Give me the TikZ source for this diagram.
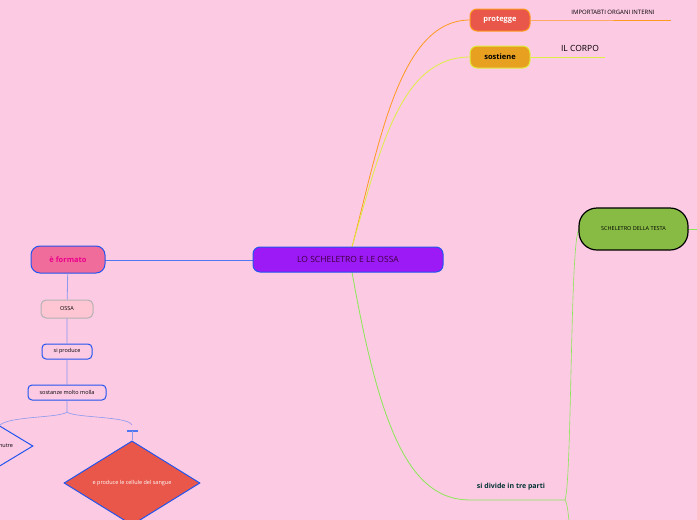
\documentclass[tikz,border=0pt]{standalone}
\usepackage{fontspec}
\setmainfont{Open Sans}
\usetikzlibrary{shapes.geometric}
\definecolor{bg}{HTML}{FDCAE4}
\definecolor{bl}{HTML}{2255EE}
\definecolor{ln}{HTML}{8899EE}
\definecolor{cpur}{HTML}{9B1AF5}
\definecolor{cred}{HTML}{E8574A}
\definecolor{corg}{HTML}{E8A020}
\definecolor{cgrn}{HTML}{88BB44}
\definecolor{cpink}{HTML}{F06C9B}
\definecolor{lorg}{HTML}{FF9A20}
\definecolor{lyel}{HTML}{DDEE44}
\definecolor{lgrn}{HTML}{88E855}
\begin{document}
\begin{tikzpicture}[x=1pt,y=-1pt,
 pill/.style={rounded corners=#1,draw,line width=1pt,align=center,inner sep=0pt},
 small/.style={font=\fontsize{5.5}{6.5}\selectfont}]
\fill[bg] (0,0) rectangle (697,520);
\clip (0,0) rectangle (697,520);
\draw[lorg,line width=0.8pt] (352,247) .. controls (380,140) and (400,20) .. (470,20);
\draw[lyel,line width=0.8pt] (352,247) .. controls (380,150) and (400,57) .. (470,57);
\draw[lgrn,line width=0.8pt] (352,272) .. controls (380,430) and (410,500) .. (470,500) -- (565,500);
\draw[lgrn,line width=0.6pt] (565,500) .. controls (572,480) and (570,240) .. (579,229);
\draw[lgrn,line width=0.6pt] (565,500) .. controls (568,505) and (568,515) .. (569,520);
\draw[lgrn,line width=0.6pt] (688,229) -- (697,229);
\draw[bl!80,line width=0.8pt] (105,260) -- (253,260);
\node[pill=7pt,fill=cpur,draw=bl,minimum width=190pt,minimum height=25pt,text=violet!50!black,font=\fontsize{8.5}{9}\selectfont] (c) at (348,259.5) {LO SCHELETRO E LE OSSA};
\node[pill=7pt,fill=cred,draw=lorg,minimum width=60pt,minimum height=22pt,text=white,font=\bfseries\fontsize{7.5}{9}\selectfont] (p) at (500,20) {protegge};
\node[pill=7pt,fill=corg,draw=lyel,minimum width=60pt,minimum height=22pt,font=\bfseries\fontsize{7.5}{9}\selectfont] (s) at (500,57) {sostiene};
\draw[lorg,line width=0.8pt] (p.east) -- (558,20) -- (671,20);
\draw[lyel,line width=0.8pt] (s.east) -- (605,57);
\node[font=\fontsize{6}{7}\selectfont] (t1) at (613,12) {IMPORTABTI ORGANI INTERNI};
\node[font=\fontsize{8.5}{9}\selectfont] (t2) at (580,48) {IL CORPO};
\node[pill=18pt,fill=cgrn,draw=black,line width=1.2pt,minimum width=109pt,minimum height=42pt,small] (st) at (633.5,229) {SCHELETRO DELLA TESTA};
\node[font=\bfseries\fontsize{7}{8}\selectfont,text=teal!40!black] (sd) at (511,487) {si divide in tre parti};
\node[pill=9pt,fill=cpink,draw=bl,minimum width=74pt,minimum height=27pt,text=magenta,font=\bfseries\fontsize{7.5}{9}\selectfont] (f) at (68,259.5) {è formato};
\node[pill=5pt,fill=pink!50!bg,draw=gray!60,minimum width=52pt,minimum height=18pt,small] (o) at (67,309) {OSSA};
\node[pill=4pt,fill=bg,draw=bl,minimum width=50pt,minimum height=15pt,small] (sp) at (67,351.5) {si produce};
\node[pill=4pt,fill=bg,draw=bl,minimum width=78pt,minimum height=15pt,small] (sm) at (67,392.5) {sostanze molto molla};
\draw[ln,line width=0.8pt] (f) -- (o) -- (sp) -- (sm);
\draw[ln,line width=0.6pt] (sm.south) -- (67,412) .. controls (60,418) and (10,416) .. (0,425);
\draw[ln,line width=0.6pt] (67,412) .. controls (74,418) and (128,416) .. (132,425);
\draw[bl!80,line width=1.2pt] (127,431) -- (138,431);
\node[diamond,draw=bl,line width=1pt,fill=bg,minimum width=66pt,minimum height=40pt,inner sep=0pt,small] (n) at (0,446) {\hspace*{12pt}nutre};
\node[diamond,draw=bl,line width=1pt,fill=cred,minimum width=136pt,minimum height=56pt,inner sep=0pt,small,text=white] (r) at (132,483) {e produce le cellule del sangue};
\draw[ln,line width=0.8pt] (132,431) -- (r.north);
\draw[ln,line width=0.8pt] (r.south) -- (132,520);
\end{tikzpicture}
\end{document}
